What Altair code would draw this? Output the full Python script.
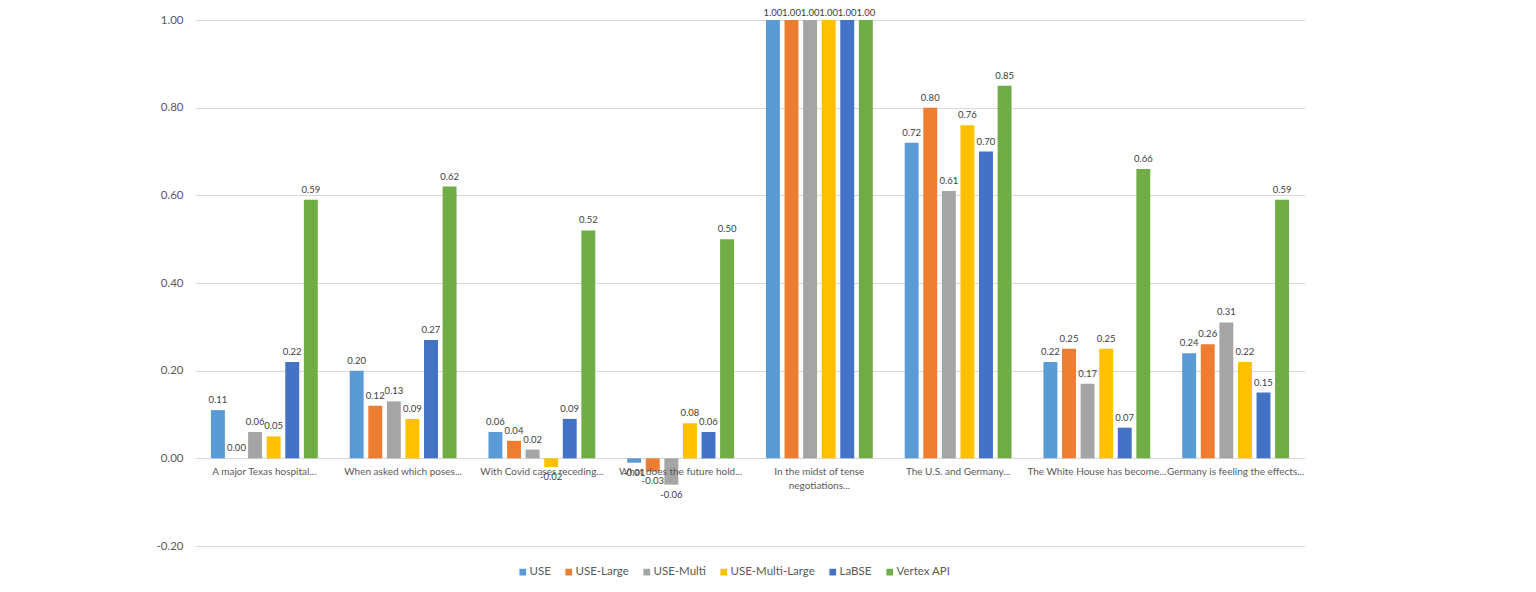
import altair as alt
import pandas as pd

categories = [
    "A major Texas hospital...",
    "When asked which poses...",
    "With Covid cases receding...",
    "What does the future hold...",
    "In the midst of tense negotiations...",
    "The U.S. and Germany...",
    "The White House has become...",
    "Germany is feeling the effects...",
]
category_labels = [
    "A major Texas hospital...",
    "When asked which poses...",
    "With Covid cases receding...",
    "What does the future hold...",
    "In the midst of tense\nnegotiations...",
    "The U.S. and Germany...",
    "The White House has become...",
    "Germany is feeling the effects...",
]
series = ["USE", "USE-Large", "USE-Multi", "USE-Multi-Large", "LaBSE", "Vertex API"]
colors = ["#5B9BD5", "#ED7D31", "#A5A5A5", "#FFC000", "#4472C4", "#70AD47"]

use = [0.11, 0.20, 0.06, -0.01, 1.00, 0.72, 0.22, 0.24]
use_large = [0.00, 0.12, 0.04, -0.03, 1.00, 0.80, 0.25, 0.26]
use_multi = [0.06, 0.13, 0.02, -0.06, 1.00, 0.61, 0.17, 0.31]
use_multi_large = [0.05, 0.09, -0.02, 0.08, 1.00, 0.76, 0.25, 0.22]
labse = [0.22, 0.27, 0.09, 0.06, 1.00, 0.70, 0.07, 0.15]
vertex = [0.59, 0.62, 0.52, 0.50, 1.00, 0.85, 0.66, 0.59]

values = [use, use_large, use_multi, use_multi_large, labse, vertex]
rows = []
for s, vals in zip(series, values):
    for c, v in zip(categories, vals):
        rows.append({"category": c, "series": s, "value": v, "txt": f"{v:.2f}"})
df = pd.DataFrame(rows)
cat_df = pd.DataFrame({"category": categories, "label": category_labels})

FONT = "Lato"

x_scale = alt.Scale(domain=categories, paddingInner=0.23, paddingOuter=0.115)
x_enc = alt.X("category:N", sort=categories, axis=None, scale=x_scale)
x_off = alt.XOffset("series:N", sort=series,
                    scale=alt.Scale(domain=series, paddingInner=0.25, paddingOuter=0))
y_scale = alt.Scale(domain=[-0.2, 1.0], nice=False, zero=False)

base = alt.Chart(df)

bars = base.mark_bar().encode(
    x=x_enc,
    xOffset=x_off,
    y=alt.Y("value:Q", scale=y_scale, title=None,
            axis=alt.Axis(values=[-0.2, 0, 0.2, 0.4, 0.6, 0.8, 1.0],
                          labelExpr="datum.value < 0 ? '-' + format(-datum.value, '.2f') : format(datum.value, '.2f')",
                          domain=False, ticks=False, labelPadding=12,
                          gridColor="#D9D9D9", labelColor="#595959",
                          labelFontSize=11.5, labelFont=FONT)),
    color=alt.Color("series:N", sort=series,
                    scale=alt.Scale(domain=series, range=colors),
                    legend=alt.Legend(title=None, orient="none", direction="horizontal",
                                      legendX=322, legendY=546, padding=0,
                                      symbolType="square", symbolSize=45,
                                      symbolStrokeWidth=0, labelOffset=1,
                                      labelFontSize=11.5, labelFont=FONT,
                                      labelColor="#595959", columnPadding=12)),
)

text_props = dict(fontSize=9.5, font=FONT, color="#404040")

pos_labels = base.transform_filter("datum.value >= 0 && datum.value < 0.995").mark_text(
    baseline="bottom", dy=-5, **text_props
).encode(
    x=x_enc, xOffset=x_off,
    y=alt.Y("value:Q", scale=y_scale),
    text="txt:N",
)

top_labels = base.transform_filter("datum.value >= 0.995").mark_text(
    baseline="bottom", dy=-2, **text_props
).encode(
    x=x_enc, xOffset=x_off,
    y=alt.Y("value:Q", scale=y_scale),
    text="txt:N",
)

neg_labels = base.transform_filter("datum.value < 0").mark_text(
    baseline="top", dy=5, **text_props
).encode(
    x=x_enc, xOffset=x_off,
    y=alt.Y("value:Q", scale=y_scale),
    text="txt:N",
)

cat_labels = alt.Chart(cat_df).mark_text(
    baseline="top", dy=9, fontSize=10, font=FONT, color="#595959",
    lineBreak="\n", lineHeight=14
).encode(
    x=alt.X("category:N", sort=categories, axis=None, scale=x_scale),
    y=alt.YDatum(0),
    text="label:N",
)

chart = alt.layer(bars, pos_labels, top_labels, neg_labels, cat_labels).properties(
    width=1110, height=526,
    autosize=alt.AutoSizeParams(type="none"),
    padding={"left": 187, "top": 12, "right": 20, "bottom": 46},
).configure_view(stroke=None).configure_axis(grid=True)

chart.save("out.html", embed_options={"renderer": "svg", "actions": False})
